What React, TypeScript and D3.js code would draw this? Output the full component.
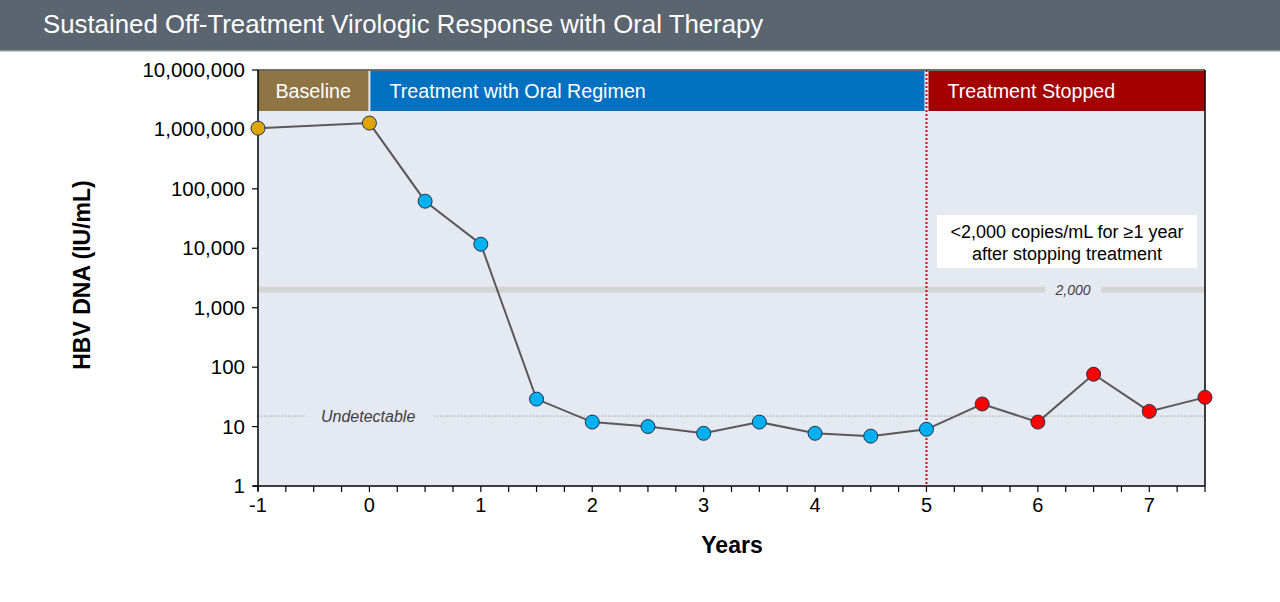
import React from "react";
import * as d3 from "d3";

// HBV DNA measurements over time (years relative to start of oral therapy)
const years = [-1, 0, 0.5, 1, 1.5, 2, 2.5, 3, 3.5, 4, 4.5, 5, 5.5, 6, 6.5, 7, 7.5];
const hbvDna = [1050000, 1280000, 62000, 11700, 29, 11.9, 10, 7.7, 11.9, 7.7, 6.9, 9, 24, 11.9, 76, 18, 31];
const phases = ["baseline", "baseline", "treat", "treat", "treat", "treat", "treat", "treat", "treat", "treat", "treat", "treat", "stop", "stop", "stop", "stop", "stop"];

const xTickValues = [-1, 0, 1, 2, 3, 4, 5, 6, 7];
const yTickValues = [1, 10, 100, 1000, 10000, 100000, 1000000, 10000000];

// Phase bands across the top of the plot: [start, end, label]
const bandStarts = [-1, 0, 5];
const bandEnds = [0, 5, 7.5];
const bandLabels = ["Baseline", "Treatment with Oral Regimen", "Treatment Stopped"];

const threshold = 2000;
const undetectable = 15;
const stopYear = 5;

const W = 1280;
const H = 602;
const left = 258;
const right = 1205;
const top = 70;
const bottom = 486;

const phaseFill: Record<string, string> = {
  baseline: "#E0A500",
  treat: "#00B0F0",
  stop: "#FF0000",
};
const bandFill = ["#8F7444", "#0070C0", "#A50000"];

export default function App() {
  const x = d3.scaleLinear().domain([-1, 7.5]).range([left, right]);
  const y = d3.scaleLog().domain([1, 1e7]).range([bottom, top]);
  const fmt = d3.format(",");
  const line = d3
    .line<number>()
    .x((_, i) => x(years[i]))
    .y((v) => y(v));

  const minorTicks = d3.range(-1, 7.5001, 0.25);
  const font = "'Liberation Sans', Arial, Helvetica, sans-serif";
  const yThr = y(threshold);
  const yUnd = y(undetectable);

  return (
    <svg
      width={W}
      height={H}
      style={{ position: "absolute", left: 0, top: 0, display: "block" }}
      fontFamily={font}
    >
      <rect x={0} y={0} width={W} height={H} fill="#FFFFFF" />
      {/* title bar */}
      <rect x={0} y={0} width={W} height={50} fill="#5B6570" />
      <rect x={0} y={50} width={W} height={1.5} fill="#8C96A0" />
      <text x={43} y={33} fill="#FFFFFF" fontSize={25.8}>
        Sustained Off-Treatment Virologic Response with Oral Therapy
      </text>

      {/* plot background */}
      <rect x={left} y={top} width={right - left} height={bottom - top} fill="#E5E9F1" />

      {/* phase bands */}
      {bandStarts.map((s, i) => {
        const x0 = x(s) + (i === 0 ? 0 : i === 2 ? 2 : 1);
        const x1 = x(bandEnds[i]) - (i === 0 ? 1 : i === 1 ? 2 : 0);
        return (
          <g key={i}>
            <rect x={x0} y={71} width={x1 - x0} height={40} fill={bandFill[i]} />
            <text
              x={i === 0 ? (x0 + x1) / 2 : x0 + 19}
              y={98}
              fill="#FFFFFF"
              fontSize={19.7}
              textAnchor={i === 0 ? "middle" : "start"}
            >
              {bandLabels[i]}
            </text>
          </g>
        );
      })}

      {/* undetectable reference line */}
      <line x1={left} x2={305} y1={yUnd} y2={yUnd} stroke="#A6A6A6" strokeWidth={1} strokeDasharray="1.5,1.5" />
      <line x1={434} x2={right} y1={yUnd} y2={yUnd} stroke="#A6A6A6" strokeWidth={1} strokeDasharray="1.5,1.5" />
      <text x={321} y={yUnd + 6} fontSize={16} fontStyle="italic" fill="#404040">
        Undetectable
      </text>

      {/* 2,000 threshold line */}
      <line x1={left} x2={1045} y1={yThr} y2={yThr} stroke="#D4D4D4" strokeWidth={6} />
      <line x1={1101} x2={right} y1={yThr} y2={yThr} stroke="#D4D4D4" strokeWidth={6} />
      <text x={1073} y={yThr + 5} fontSize={14} fontStyle="italic" fill="#404040" textAnchor="middle">
        {fmt(threshold)}
      </text>

      {/* treatment stop marker */}
      <line
        x1={x(stopYear)}
        x2={x(stopYear)}
        y1={top}
        y2={bottom}
        stroke="#E00000"
        strokeWidth={2}
        strokeDasharray="2,2"
      />

      {/* annotation */}
      <rect x={937} y={215} width={260} height={53} fill="#FFFFFF" />
      <text x={1067} y={238} fontSize={18} textAnchor="middle" fill="#000000">
        {"<2,000 copies/mL for \u22651 year"}
      </text>
      <text x={1067} y={260} fontSize={18} textAnchor="middle" fill="#000000">
        after stopping treatment
      </text>

      {/* axes frame */}
      <line x1={left} x2={right} y1={top} y2={top} stroke="#404040" strokeWidth={1.5} />
      <line x1={right} x2={right} y1={top} y2={bottom} stroke="#000000" strokeWidth={1.5} />
      <line x1={left} x2={left} y1={top} y2={bottom + 5} stroke="#000000" strokeWidth={1.5} />
      <line x1={left - 5} x2={right} y1={bottom} y2={bottom} stroke="#000000" strokeWidth={1.5} />

      {/* y ticks */}
      {yTickValues.map((v) => (
        <g key={v}>
          <line x1={left - 6} x2={left} y1={y(v)} y2={y(v)} stroke="#000000" strokeWidth={1.2} />
          <text x={245} y={y(v) + 7} fontSize={20.5} textAnchor="end" fill="#000000">
            {fmt(v)}
          </text>
        </g>
      ))}

      {/* x ticks */}
      {minorTicks.map((t) => (
        <line key={t} x1={x(t)} x2={x(t)} y1={bottom} y2={bottom + 6} stroke="#000000" strokeWidth={1.2} />
      ))}
      {xTickValues.map((t) => (
        <text key={t} x={x(t)} y={512} fontSize={20} textAnchor="middle" fill="#000000">
          {t}
        </text>
      ))}

      {/* axis titles */}
      <text x={732} y={553} fontSize={23} fontWeight="bold" textAnchor="middle" fill="#000000">
        Years
      </text>
      <text
        transform={`translate(90,${(top + bottom) / 2 - 3}) rotate(-90)`}
        fontSize={23}
        fontWeight="bold"
        textAnchor="middle"
        fill="#000000"
      >
        HBV DNA (IU/mL)
      </text>

      {/* data line and markers */}
      <path d={line(hbvDna) ?? ""} fill="none" stroke="#595959" strokeWidth={2} />
      {hbvDna.map((v, i) => (
        <circle
          key={i}
          cx={x(years[i])}
          cy={y(v)}
          r={7}
          fill={phaseFill[phases[i]]}
          stroke="#1F3550"
          strokeWidth={1}
        />
      ))}
    </svg>
  );
}
